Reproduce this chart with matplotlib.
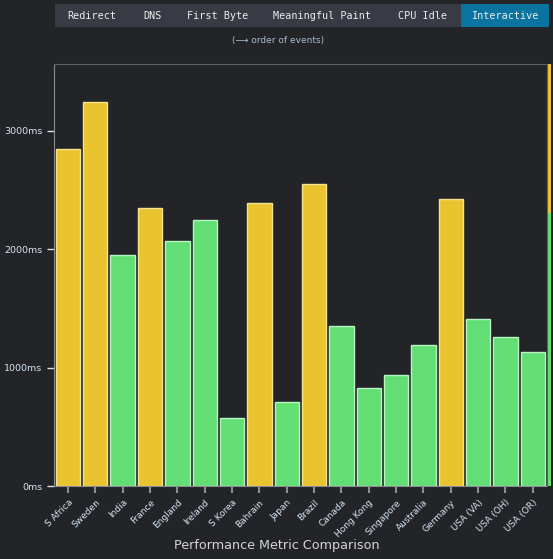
import matplotlib
matplotlib.use("Agg")
import matplotlib.pyplot as plt
from matplotlib.patches import Rectangle

# data
cities = ["S Africa", "Sweden", "India", "France", "England", "Ireland",
          "S Korea", "Bahrain", "Japan", "Brazil", "Canada", "Hong Kong",
          "Singapore", "Australia", "Germany", "USA (VA)", "USA (OH)", "USA (OR)"]
interactive_ms = [2845, 3240, 1950, 2345, 2067, 2244, 572, 2388, 707, 2548,
                  1349, 825, 935, 1188, 2421, 1408, 1256, 1130]
slow = [True, True, False, True, False, False, False, True, False, True,
        False, False, False, False, True, False, False, False]
strip_split = 2308
y_top = 3560
tabs = ["Redirect", "DNS", "First Byte", "Meaningful Paint", "CPU Idle", "Interactive"]
tab_x = [91.7, 152.7, 218, 322, 423, 505]

bg = "#222428"
yellow, yellow_edge = "#EAC42F", "#F6E38E"
green, green_edge = "#62DE74", "#B8F5C0"
label_col = "#D6E4F2"

fig = plt.figure(figsize=(5.53, 5.59), dpi=100, facecolor=bg)
W, H = 553, 559

# tab bar at the top
bar = fig.add_axes([0, 0, 1, 1], facecolor="none")
bar.set_xlim(0, W)
bar.set_ylim(H, 0)
bar.axis("off")
bar.add_patch(Rectangle((55.4, 4.3), 494, 22.5, facecolor="#393B44", edgecolor="none"))
bar.add_patch(Rectangle((461, 4.3), 88.4, 22.5, facecolor="#0A74A0", edgecolor="none"))
for name, x in zip(tabs, tab_x):
    bar.text(x, 16.3, name, color="#ECECEC", fontsize=7.3, family="DejaVu Sans Mono",
             ha="center", va="center")
bar.text(277.6, 40.5, "(\u27f6 order of events)", color="#A9BBCC", fontsize=6.5,
         ha="center", va="center")

ax = fig.add_axes([54.3 / W, 1 - 486 / H, 492.2 / W, (486 - 64.3) / H], facecolor=bg)
xs = list(range(len(cities)))
colors = [yellow if s else green for s in slow]
edges = [yellow_edge if s else green_edge for s in slow]
ax.bar(xs, interactive_ms, width=0.89, color=colors, edgecolor=edges, linewidth=1.0)

ax.set_xlim(-0.5, len(cities) - 0.5)
ax.set_ylim(0, y_top)
ax.set_yticks([0, 1000, 2000, 3000])
ax.set_yticklabels(["0ms", "1000ms", "2000ms", "3000ms"])
ax.set_xticks(xs)
ax.set_xticklabels(cities, rotation=45, ha="right", rotation_mode="anchor")

for side in ["top", "right", "left", "bottom"]:
    ax.spines[side].set_color("#5E6068")
ax.spines["left"].set_color("#8A8C92")
ax.spines["bottom"].set_color("#8A8C92")
ax.tick_params(axis="y", colors="#E0E0E0", labelcolor=label_col, labelsize=6.8, length=5, width=1)
ax.tick_params(axis="x", colors="#8A8C92", labelcolor=label_col, labelsize=6.5, length=5, width=1.5)

# colour strip right of the plot
tr = ax.get_yaxis_transform()
ax.add_patch(Rectangle((1.001, 0), 0.008, strip_split, transform=tr,
                       facecolor=green, edgecolor="none", clip_on=False))
ax.add_patch(Rectangle((1.001, strip_split), 0.008, y_top - strip_split, transform=tr,
                       facecolor=yellow, edgecolor="none", clip_on=False))

fig.text(277 / W, 1 - 545 / H, "Performance Metric Comparison", color="#D4D4D4",
         fontsize=9.2, ha="center", va="center")

fig.savefig("out.png", dpi=100, facecolor=bg)
